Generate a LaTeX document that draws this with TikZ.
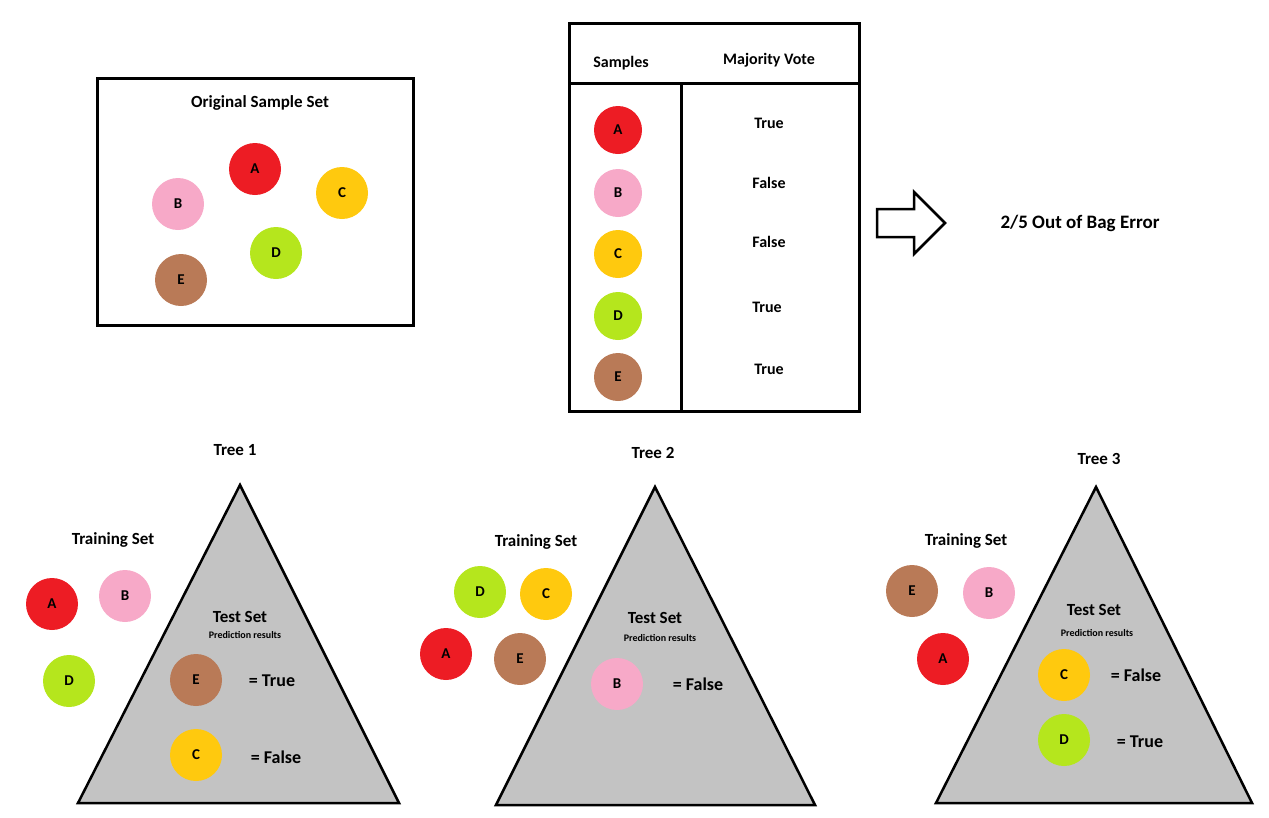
\documentclass[tikz,border=0pt]{standalone}
\usepackage{fontspec}
\setmainfont{Carlito}
\definecolor{cA}{HTML}{ED1C24}
\definecolor{cB}{HTML}{F7A9C8}
\definecolor{cC}{HTML}{FFC90E}
\definecolor{cD}{HTML}{B5E61D}
\definecolor{cE}{HTML}{B97A57}
\definecolor{tri}{HTML}{C3C3C3}
\begin{document}
\begin{tikzpicture}[x=1pt,y=-1pt,
  ball/.style={circle,minimum size=52pt,inner sep=0pt,font=\fontsize{15}{15}\selectfont\bfseries},
  sball/.style={circle,minimum size=48pt,inner sep=0pt,font=\fontsize{15}{15}\selectfont\bfseries},
  lbl/.style={font=\fontsize{17}{17}\selectfont\bfseries},
  val/.style={font=\fontsize{16}{16}\selectfont\bfseries},
  small/.style={font=\fontsize{10}{10}\selectfont\bfseries},
  line/.style={line width=3pt},
  tree/.style={line width=2.5pt,fill=tri}]
\useasboundingbox (0,0) rectangle (1269,817);
% original sample set
\draw[line] (97,78) rectangle (413,325);
\node[lbl] (ost) at (260,103) {Original Sample Set};
\node[ball,fill=cA] (oA) at (255,169) {A};
\node[ball,fill=cB] (oB) at (178,204) {B};
\node[ball,fill=cC] (oC) at (342,193) {C};
\node[ball,fill=cD] (oD) at (276,253) {D};
\node[ball,fill=cE] (oE) at (181,280) {E};
% table
\draw[line] (569,23) rectangle (859,411);
\draw[line] (569,83) -- (859,83);
\draw[line] (681,83) -- (681,411);
\node[val] (hs) at (621,63) {Samples};
\node[val] (hm) at (769,60) {Majority Vote};
\node[sball,fill=cA] (tA) at (618,130) {A};
\node[sball,fill=cB] (tB) at (618,193) {B};
\node[sball,fill=cC] (tC) at (618,254) {C};
\node[sball,fill=cD] (tD) at (618,316) {D};
\node[sball,fill=cE] (tE) at (618,377) {E};
\node[val] (vA) at (769,123) {True};
\node[val] (vB) at (769,183) {False};
\node[val] (vC) at (769,242) {False};
\node[val] (vD) at (767,307) {True};
\node[val] (vE) at (769,369) {True};
% arrow
\draw[line width=2.5pt,line join=miter] (877,209) -- (914,209) -- (914,192) -- (945,223) -- (914,254) -- (914,237) -- (877,237) -- cycle;
\node[lbl,font=\fontsize{19}{19}\selectfont\bfseries] (oob) at (1080,223) {2/5 Out of Bag Error};
% tree 1
\draw[tree] (240,485) -- (399,803) -- (78,803) -- cycle;
\node[lbl] (t1) at (235,450) {Tree 1};
\node[lbl] (tr1) at (113,540) {Training Set};
\node[ball,fill=cA] (a1) at (52,604) {A};
\node[ball,fill=cB] (b1) at (125,596) {B};
\node[ball,fill=cD] (d1) at (69,681) {D};
\node[lbl] (ts1) at (240,617) {Test Set};
\node[small] (pr1) at (245,635) {Prediction results};
\node[ball,fill=cE] (e1) at (196,680) {E};
\node[val,font=\fontsize{18}{18}\selectfont\bfseries] (e1v) at (272,681) {= True};
\node[ball,fill=cC] (c1) at (196,755) {C};
\node[val,font=\fontsize{18}{18}\selectfont\bfseries] (c1v) at (276,757) {= False};
% tree 2
\draw[tree] (655,487) -- (815,805) -- (496,805) -- cycle;
\node[lbl] (t2) at (653,453) {Tree 2};
\node[lbl] (tr2) at (536,542) {Training Set};
\node[ball,fill=cD] (d2) at (480,592) {D};
\node[ball,fill=cC] (c2) at (546,594) {C};
\node[ball,fill=cA] (a2) at (446,654) {A};
\node[ball,fill=cE] (e2) at (520,659) {E};
\node[lbl] (ts2) at (655,618) {Test Set};
\node[small] (pr2) at (660,638) {Prediction results};
\node[ball,fill=cB] (b2) at (617,684) {B};
\node[val,font=\fontsize{18}{18}\selectfont\bfseries] (b2v) at (698,684) {= False};
% tree 3
\draw[tree] (1096,487) -- (1252,803) -- (936,803) -- cycle;
\node[lbl] (t3) at (1099,459) {Tree 3};
\node[lbl] (tr3) at (966,541) {Training Set};
\node[ball,fill=cE] (e3) at (912,591) {E};
\node[ball,fill=cB] (b3) at (989,593) {B};
\node[ball,fill=cA] (a3) at (943,659) {A};
\node[lbl] (ts3) at (1094,610) {Test Set};
\node[small] (pr3) at (1097,633) {Prediction results};
\node[ball,fill=cC] (c3) at (1064,675) {C};
\node[val,font=\fontsize{18}{18}\selectfont\bfseries] (c3v) at (1136,675) {= False};
\node[ball,fill=cD] (d3) at (1064,740) {D};
\node[val,font=\fontsize{18}{18}\selectfont\bfseries] (d3v) at (1140,742) {= True};
\end{tikzpicture}
\end{document}
